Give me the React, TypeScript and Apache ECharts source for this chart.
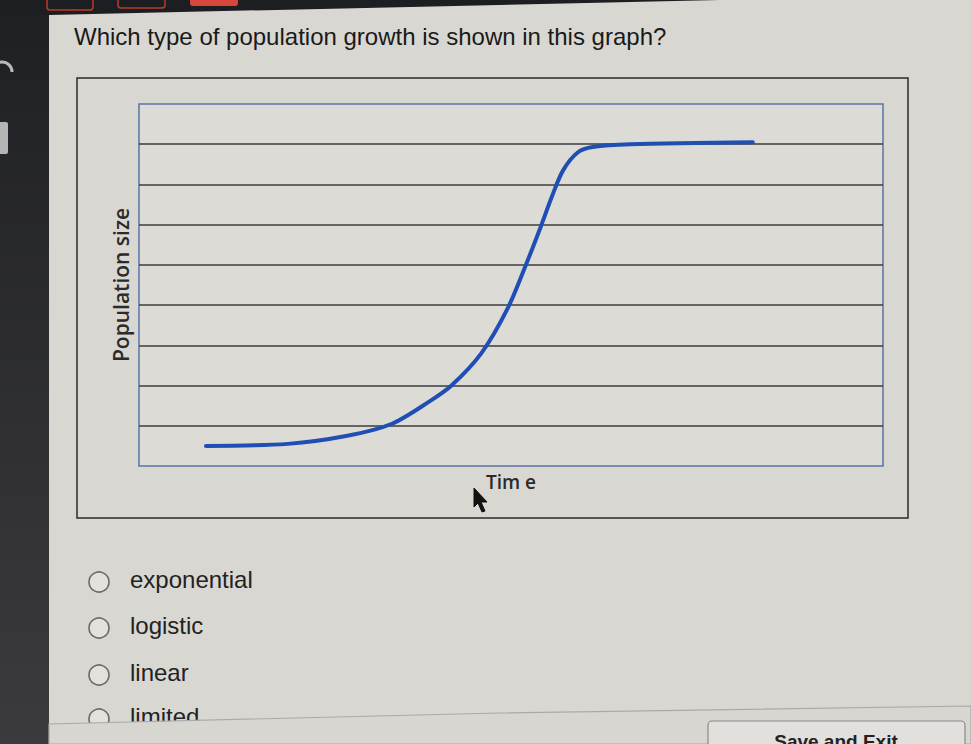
import React, { useEffect, useRef } from "react";
import * as echarts from "echarts";

// ---- data ----
const QUESTION = "Which type of population growth is shown in this graph?";
const X_NAME = "Tim e";
const Y_NAME = "Population size";
const Y_MIN = 0;
const Y_MAX = 9;
const Y_INTERVAL = 1;
const X_MIN = 0;
const X_MAX = 100;
const TIME = [9, 20, 28, 34, 39, 42, 46, 49.5, 52, 54, 55.5, 57, 59, 61, 66, 82.5];
const POPULATION = [0.5, 0.55, 0.75, 1.05, 1.6, 2.0, 2.8, 3.9, 5.0, 5.95, 6.7, 7.35, 7.8, 7.93, 8.0, 8.05];
const CHOICES = ["exponential", "logistic", "linear", "limited"];

export default function App() {
  const ref = useRef<HTMLDivElement>(null);

  useEffect(() => {
    if (!ref.current) return;
    const chart = echarts.init(ref.current, null, { renderer: "svg" });

    const lineData = TIME.map((t, i) => [t, POPULATION[i]]);
    const nLines = Math.round((Y_MAX - Y_MIN) / Y_INTERVAL) + 1;
    const splitColors = Array.from({ length: nLines }, (_, i) =>
      i === 0 || i === nLines - 1 ? "rgba(0,0,0,0)" : "#3c3c3c"
    );

    const choiceY = [582, 628, 675, 719];
    const choiceEls: any[] = [];
    CHOICES.forEach((c, i) => {
      choiceEls.push({
        type: "circle",
        shape: { cx: 99, cy: choiceY[i], r: 10 },
        style: { fill: "#e3e1dc", stroke: "#6b6b6b", lineWidth: 1.6 },
      });
      choiceEls.push({
        type: "text",
        x: 130,
        y: choiceY[i] - 15,
        style: {
          text: c,
          fill: "#222",
          font: "24px 'Liberation Sans', Arial, sans-serif",
          verticalAlign: "top",
        },
      });
    });

    chart.setOption({
      animation: false,
      backgroundColor: "#d9d7d2",
      grid: {
        left: 139,
        right: 971 - 883,
        top: 104,
        bottom: 744 - 466,
        show: true,
        backgroundColor: "#dddbd6",
        borderColor: "#5a74a8",
        borderWidth: 1.5,
      },
      xAxis: {
        type: "value",
        min: X_MIN,
        max: X_MAX,
        axisLine: { show: false },
        axisTick: { show: false },
        axisLabel: { show: false },
        splitLine: { show: false },
        name: X_NAME,
        nameLocation: "middle",
        nameGap: 6,
        nameTextStyle: {
          fontFamily: "'Open Sans', sans-serif",
          fontWeight: 600,
          fontSize: 19,
          color: "#2a2a2a",
          verticalAlign: "top",
        },
      },
      yAxis: {
        type: "value",
        min: Y_MIN,
        max: Y_MAX,
        interval: Y_INTERVAL,
        axisLine: { show: false },
        axisTick: { show: false },
        axisLabel: { show: false },
        splitLine: { show: true, lineStyle: { color: splitColors, width: 1.6 } },
        name: Y_NAME,
        nameLocation: "middle",
        nameRotate: 90,
        nameGap: 8,
        nameTextStyle: {
          fontFamily: "'Open Sans', sans-serif",
          fontWeight: 600,
          fontSize: 21,
          color: "#2a2a2a",
        },
      },
      series: [
        {
          type: "line",
          data: lineData,
          smooth: 0.3,
          symbol: "none",
          lineStyle: { color: "#1f4fb5", width: 4, cap: "round", join: "round" },
          z: 5,
        },
      ],
      graphic: [
        // left dark strip
        {
          type: "rect",
          shape: { x: 0, y: 0, width: 49, height: 744 },
          style: {
            fill: new echarts.graphic.LinearGradient(0, 0, 0, 1, [
              { offset: 0, color: "#1f2024" },
              { offset: 1, color: "#3b3b3d" },
            ]),
          },
          z: 1,
        },
        // top dark wedge
        {
          type: "polygon",
          shape: { points: [[0, 0], [720, 0], [49, 15], [0, 15]] },
          style: { fill: "#1d1e22" },
          z: 1,
        },
        { type: "rect", shape: { x: 47, y: -4, width: 46, height: 14, r: 3 }, style: { fill: "#1d1e22", stroke: "#c0392b", lineWidth: 1.5 }, z: 2 },
        { type: "rect", shape: { x: 118, y: -4, width: 47, height: 12, r: 3 }, style: { fill: "#1d1e22", stroke: "#c0392b", lineWidth: 1.5 }, z: 2 },
        { type: "rect", shape: { x: 190, y: -4, width: 48, height: 10, r: 3 }, style: { fill: "#d9473a" }, z: 2 },
        // left icons
        { type: "arc", shape: { cx: 2, cy: 72, r: 10, startAngle: Math.PI, endAngle: 2 * Math.PI }, style: { stroke: "#bbb", lineWidth: 3, fill: "none" }, z: 2 },
        { type: "rect", shape: { x: -4, y: 122, width: 12, height: 32, r: 2 }, style: { fill: "#b5b5b5" }, z: 2 },
        // question text
        {
          type: "text",
          x: 74,
          y: 24,
          style: {
            text: QUESTION,
            fill: "#1a1a1a",
            font: "24px 'Liberation Sans', Arial, sans-serif",
            verticalAlign: "top",
          },
          z: 2,
        },
        // outer panel border
        {
          type: "rect",
          shape: { x: 77, y: 78, width: 831, height: 440 },
          style: { fill: "none", stroke: "#2b2b2b", lineWidth: 1.5 },
          z: 2,
        },
        // mouse cursor
        {
          type: "polygon",
          shape: {
            points: [[474, 488], [474, 507], [478, 503], [482, 512], [485, 511], [481, 502], [487, 502]],
          },
          style: { fill: "#111", stroke: "#111", lineWidth: 1 },
          z: 6,
        },
        ...choiceEls.map((e) => ({ ...e, z: 2 })),
        // footer overlay
        {
          type: "polygon",
          shape: { points: [[49, 724], [500, 713], [971, 706], [971, 744], [49, 744]] },
          style: { fill: "#d8d6d1", stroke: "#a9aaad", lineWidth: 1.2 },
          z: 3,
        },
        {
          type: "rect",
          shape: { x: 708, y: 721, width: 257, height: 40, r: 4 },
          style: { fill: "#e2e0dc", stroke: "#8a8a8a", lineWidth: 1.2 },
          z: 4,
        },
        {
          type: "text",
          x: 836,
          y: 732,
          style: {
            text: "Save and Exit",
            fill: "#222",
            font: "bold 19px 'Liberation Sans', Arial, sans-serif",
            align: "center",
            verticalAlign: "top",
          },
          z: 4,
        },
      ],
    });

    return () => chart.dispose();
  }, []);

  return (
    <div
      ref={ref}
      style={{ position: "fixed", left: 0, top: 0, width: 971, height: 744 }}
    />
  );
}
